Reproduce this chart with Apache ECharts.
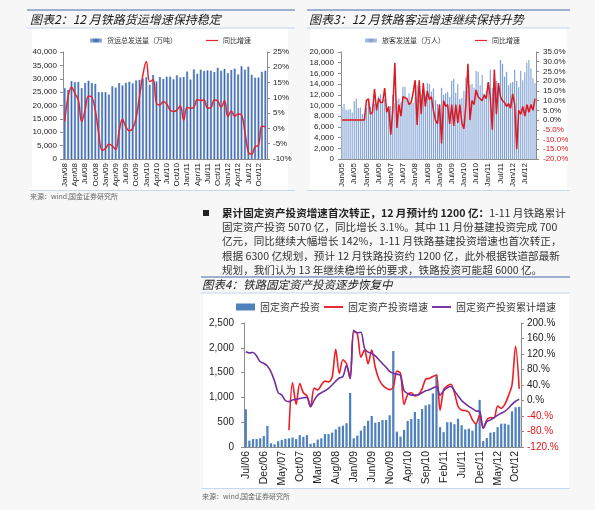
<!DOCTYPE html>
<html><head><meta charset="utf-8">
<script src="https://cdn.jsdelivr.net/npm/echarts@6/dist/echarts.min.js"></script>
<style>html,body{margin:0;padding:0;background:#f7f7f7}#c{width:595px;height:510px}</style>
</head><body><div id="c"></div>
<script>
// ---------- data ----------
// Chart "图表2": monthly Jan/08 .. Dec/12
const freightVolume = [
 26500,25800,29100,28750,28800,26500,28400,29250,28400,28100,25000,25000,
 25000,24100,27200,26700,28400,27500,28500,28900,28300,29400,29600,30100,
 30600,27800,31400,29000,30700,29900,30800,30800,29800,31300,30500,30700,
 32700,29700,33500,31900,33400,32900,33100,33000,32500,34100,33000,33700,
 32100,33300,33800,31600,34700,33400,34500,31500,30400,30500,32600,33000];
const freightYoY = [
 2.2,10.4,13.5,11.5,9.3,2.3,6,10.6,10.2,6,-1.6,-7.1,
 -6.6,-5.2,-5.7,-6.9,-1,3,0.5,-0.8,0,3.3,10.4,17.5,
 21.9,15.3,15.9,8.2,7.7,8.8,8.0,6.0,5.5,6.0,7.3,2.7,
 6.9,6.6,6.9,9.5,9.1,9.3,6.6,6.8,9.3,9.0,6.9,9.1,
 3.8,5.7,4.0,4.7,4.4,-1.1,-7.7,-8.4,-6.0,-5.5,0.8,0.5];
// Chart "图表3": monthly Jan/05 .. Dec/12
const passengerVolume = [
 9650,10300,9200,9200,9350,8700,10800,11300,9550,9650,8400,8400,
 9600,10700,9700,10200,10300,9700,11700,12100,10400,11300,9500,9800,
 9900,12000,10400,11000,11300,10600,13500,13500,11300,12300,10400,10500,
 11500,13800,11200,12000,12200,11800,14200,14000,12600,13200,11000,10300,
 10200,13300,12000,12300,12500,11600,14600,15000,12400,14000,11200,11400,
 12700,15300,12800,13900,14000,13300,16500,16300,13800,15700,12200,12600,
 14200,16700,13300,14400,14600,13800,18500,17800,15400,16300,13800,14200,
 14400,16700,14600,13400,16500,14700,16200,18000,18500,16900,15100,14200];
const passengerYoY = [
 0,0,0,0,0,0,0,0,0,0,0,0,
 10,11,3,4,16,5,11,9,9,16.5,4,7,
 -7.5,5,29.5,-4,8,2,12,11.5,11,8,9,14,
 20.5,-2.5,20.5,3,19,7,15,10.5,12,5,0,-2,
 8,-12,10,7,8,-2,8,-3,8,-1.5,8,-1.5,
 -4.5,8,29,0,10,8,15.5,12,11,10,13,11,
 19.5,12,-5,26,3,19,12,10,9,7,8.5,6,
 13.5,8,-15,5,3,7,2,8,4,8,5,11];
// Chart "图表4": monthly Jul/06 .. Nov/12
const fixedInvest = [
 760,128,160,160,175,220,425,75,55,115,140,165,175,190,160,240,205,240,65,80,150,175,260,260,290,355,410,430,480,1090,
 175,230,330,425,530,625,490,505,545,545,640,1935,
 310,210,345,525,565,705,565,765,840,860,1080,1460,
 400,300,500,500,460,570,440,355,370,330,480,950,
 120,180,290,300,400,470,470,450,720,800,810];
const investYoY = [
 null,null,null,null,null,null,null,null,null,null,null,null,
 -77,46,-10,44,20,12,-16,32,27,40,50,48,60,132,70,105,95,57,
 178,172,112,130,95,130,85,55,40,32,28,35,
 76,70,-10,15,20,12,15,30,55,57,62,66,
 -25,28,38,42,20,-15,-25,-26,-30,-50,-60,-38,
 -70,-50,-44,-45,-14,-20,-10,12,40,140,30];
const investCumYoY = [
 126,123,124,115,100,96,89,74,50,20,14,0,-3,1,3,5,7,8,-16,1,14,20,25,31,40,50,58,62,90,57,
 181,175,176,135,125,122,115,105,95,86,75,70,
 68,65,25,18,14,14,15,20,25,28,32,36,
 14,25,33,36,25,12,0,-8,-15,-21,-27,-28,
 -72,-55,-50,-44,-38,-33,-28,-20,-10,-2,3];

const monthNames = ['Jan','Feb','Mar','Apr','May','Jun','Jul','Aug','Sep','Oct','Nov','Dec'];
function monthCats(y0, m0, n){
  const out=[];
  for(let i=0;i<n;i++){const m=m0-1+i;const y=y0+Math.floor(m/12);out.push(monthNames[m%12]+'/'+String(y%100).padStart(2,'0'));}
  return out;
}
const cats1 = monthCats(2008,1,freightVolume.length);
const cats3 = monthCats(2005,1,passengerVolume.length);
const cats4 = monthCats(2006,7,fixedInvest.length);

const paragraph = [
 '{b|累计固定资产投资增速首次转正，12 月预计约 1200 亿：}1-11 月铁路累计',
 '固定资产投资 5070 亿，同比增长 3.1%。其中 11 月份基建投资完成 700',
 '亿元，同比继续大幅增长 142%，1-11 月铁路基建投资增速也首次转正，',
 '根据 6300 亿规划，预计 12 月铁路投资约 1200 亿，此外根据铁道部最新',
 '规划，我们认为 13 年继续稳增长的要求，铁路投资可能超 6000 亿。'
];

// ---------- helpers ----------
const NUM = '"Liberation Sans", "Noto Sans CJK SC", sans-serif';
const CJK = '"Noto Sans CJK SC", sans-serif';
const axisGray = '#8c8c8c';
const LINE_ICON = 'path://M0,0H40V4H0Z';
const thousands = v => v.toLocaleString('en-US');
function grad(c1,c2){return {type:'linear',x:0,y:0,x2:1,y2:0,colorStops:[{offset:0,color:c1},{offset:0.5,color:c2},{offset:1,color:c1}]};}
function line(x1,y1,x2,y2,color,w){return {type:'line',shape:{x1,y1,x2,y2},style:{stroke:color,lineWidth:w},silent:true};}
function txt(x,y,text,font,fill,extra){return {type:'text',x,y,style:Object.assign({text,font,fill,verticalAlign:'middle'},extra||{}),silent:true};}
function catAxis(gi,data,interval,fs){
  return {gridIndex:gi,type:'category',data,
    axisLine:{lineStyle:{color:axisGray,width:1}},
    axisTick:{interval:interval,length:3,lineStyle:{color:axisGray}},
    axisLabel:{interval:interval,rotate:90,fontSize:fs,color:'#222',fontFamily:NUM,margin:4}};
}
function valAxis(gi,pos,min,max,step,fmt,fs,margin,colorFn){
  return {gridIndex:gi,type:'value',position:pos,min,max,interval:step,
    axisLine:{show:true,lineStyle:{color:axisGray}},
    axisTick:{show:true,length:3,lineStyle:{color:axisGray}},
    splitLine:{show:false},
    axisLabel:{formatter:fmt,fontSize:fs,fontFamily:NUM,color:colorFn||'#222',margin}};
}

const graphics = [
  // panels
  {type:'rect',shape:{x:32,y:28,width:256,height:162},style:{fill:'#ffffff'},silent:true,z:-10},
  {type:'rect',shape:{x:310,y:28,width:257,height:162},style:{fill:'#ffffff'},silent:true,z:-10},
  {type:'rect',shape:{x:203,y:293,width:366,height:195},style:{fill:'#ffffff'},silent:true,z:-10},
  // header rules
  line(27,10,295,10,'#7e98c6',1.5), line(27,28,295,28,'#c5d5ec',1), line(30,190.5,295,190.5,'#c5d9f0',1),
  line(307,10,570,10,'#7e98c6',1.5), line(307,28,570,28,'#c5d5ec',1), line(307,190.5,570,190.5,'#c5d9f0',1),
  line(201,277,570,277,'#7e98c6',1.5), line(201,293,570,293,'#c5d5ec',1), line(202,488.5,570,488.5,'#c5d9f0',1),
  // titles
  txt(30,19,'图表2：12 月铁路货运增速保持稳定','italic 12px '+CJK,'#1a1a1a'),
  txt(309,19,'图表3：12 月铁路客运增速继续保持升势','italic 12px '+CJK,'#1a1a1a'),
  txt(202,285,'图表4：铁路固定资产投资逐步恢复中','italic 11.5px '+CJK,'#1a1a1a'),
  // sources
  txt(30,196,'来源：wind,国金证券研究所','7px '+CJK,'#666'),
  txt(202,496,'来源：wind,国金证券研究所','7px '+CJK,'#666'),
  // bullet
  {type:'rect',shape:{x:203,y:210,width:6,height:6},style:{fill:'#222'},silent:true}
];
paragraph.forEach((t,i)=>{
  graphics.push({type:'text',x:222,y:213+i*14.2,silent:true,
    style:{text:t,font:'10.6px '+CJK,fill:'#333',verticalAlign:'middle',
      rich:{b:{fontWeight:'bold',fontSize:10.6,fontFamily:CJK,fill:'#222',color:'#222'}}}});
});

const option = {
  backgroundColor:'#f7f7f7',
  animation:false,
  graphic:graphics,
  legend:[
    {left:90,top:37,itemWidth:12,itemHeight:4,itemGap:29,padding:0,
     textStyle:{fontSize:7,fontFamily:CJK,color:'#333'},
     data:[{name:'货运总发送量（万吨）',icon:'rect'},{name:'同比增速',icon:LINE_ICON}]},
    {left:365,top:37,itemWidth:12,itemHeight:4,itemGap:30,padding:0,
     textStyle:{fontSize:7,fontFamily:CJK,color:'#333'},
     data:[{name:'旅客发送量（万人）',icon:'rect'},{name:'同比增速',icon:LINE_ICON}]},
    {left:236,top:302,itemWidth:19,itemHeight:7,itemGap:4,padding:0,
     textStyle:{fontSize:10,fontFamily:CJK,color:'#333'},
     data:[{name:'固定资产投资',icon:'rect'},{name:'固定资产投资增速',icon:LINE_ICON},{name:'固定资产投资累计增速',icon:LINE_ICON}]}
  ],
  grid:[
    {left:63,top:52,width:204,height:107},
    {left:341,top:52,width:195,height:107},
    {left:244,top:323,width:277,height:124}
  ],
  xAxis:[catAxis(0,cats1,2,8),catAxis(1,cats3,5,8),catAxis(2,cats4,4,10.5)],
  yAxis:[
    valAxis(0,'left',0,40000,5000,thousands,8,6),
    valAxis(0,'right',-10,25,5,v=>v+'%',8,6),
    valAxis(1,'left',0,20000,2000,thousands,8,7),
    valAxis(1,'right',-20,35,5,v=>v.toFixed(1)+'%',8,7,v=>(Number(v)<0?'#e3141b':'#222')),
    valAxis(2,'left',0,2500,500,thousands,10,10),
    valAxis(2,'right',-120,200,40,v=>v+'.%',10,6,v=>(Number(v)<0?'#e3141b':'#222'))
  ],
  series:[
    {name:'货运总发送量（万吨）',type:'bar',xAxisIndex:0,yAxisIndex:0,data:freightVolume,
     barWidth:'68%',itemStyle:{color:grad('#9db5dd','#3d69ae')}},
    {name:'同比增速',type:'line',xAxisIndex:0,yAxisIndex:1,data:freightYoY,smooth:0.4,symbol:'none',
     lineStyle:{color:'#e5242b',width:1.5},itemStyle:{color:'#e5242b'}},
    {name:'旅客发送量（万人）',type:'bar',xAxisIndex:1,yAxisIndex:2,data:passengerVolume,
     barWidth:'72%',itemStyle:{color:grad('#b3c7e7','#7f9fd1')}},
    {name:'同比增速',type:'line',xAxisIndex:1,yAxisIndex:3,data:passengerYoY,symbol:'none',
     lineStyle:{color:'#dc1820',width:1.5},itemStyle:{color:'#dc1820'}},
    {name:'固定资产投资',type:'bar',xAxisIndex:2,yAxisIndex:4,data:fixedInvest,
     barWidth:'62%',itemStyle:{color:'#4f81bd'}},
    {name:'固定资产投资增速',type:'line',xAxisIndex:2,yAxisIndex:5,data:investYoY,smooth:0.3,symbol:'none',
     lineStyle:{color:'#ee1c25',width:1.6},itemStyle:{color:'#ee1c25'}},
    {name:'固定资产投资累计增速',type:'line',xAxisIndex:2,yAxisIndex:5,data:investCumYoY,smooth:0.3,symbol:'none',
     lineStyle:{color:'#7030a0',width:1.6},itemStyle:{color:'#7030a0'}}
  ]
};
const chart = echarts.init(document.getElementById('c'),null,{renderer:'canvas'});
chart.setOption(option);
</script>
</body></html>
